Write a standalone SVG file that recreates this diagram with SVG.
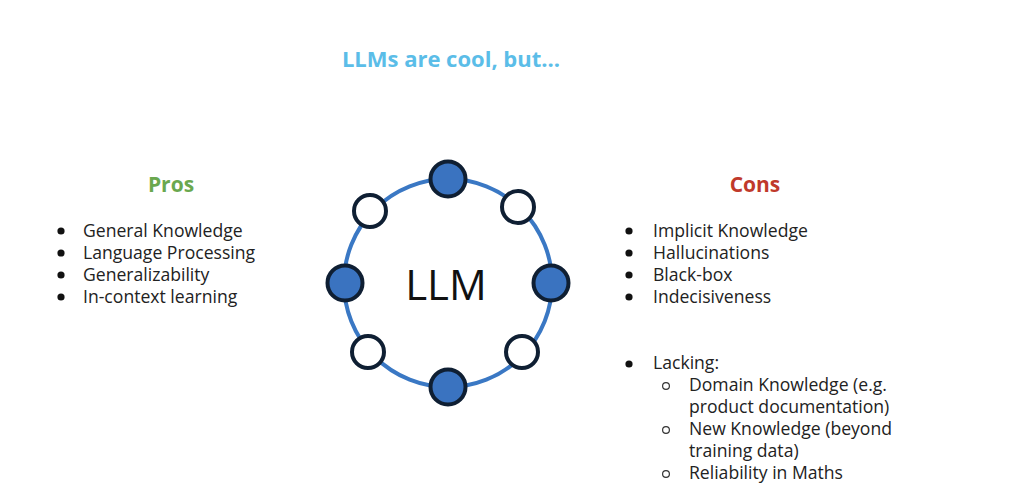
<svg xmlns="http://www.w3.org/2000/svg" width="1024" height="504" viewBox="0 0 1024 504">
<style>
text{font-family:"Open Sans","Noto Sans","Liberation Sans",sans-serif;}
.t{font-size:17.6px;fill:#222;}
.h{font-size:21px;font-weight:bold;text-anchor:middle;}
.dot{fill:#111;}
.odot{fill:none;stroke:#333;stroke-width:1.2;}
.fn{fill:#3a73c0;stroke:#0f1f33;stroke-width:4;}
.on{fill:#fff;stroke:#0f1f33;stroke-width:4;}
</style>
<rect width="1024" height="504" fill="#fff"/>
<text id="title" x="451" y="67" font-size="22" font-weight="bold" fill="#5bbde8" text-anchor="middle">LLMs are cool, but...</text>
<g id="connectors">
<circle cx="448" cy="283" r="104" fill="none" stroke="#3a78c4" stroke-width="4"/>
</g>
<g id="llm">
<g id="n-top"><circle class="fn" cx="448" cy="179" r="17.5"/></g>
<g id="n-right"><circle class="fn" cx="551" cy="283" r="17.5"/></g>
<g id="n-bottom"><circle class="fn" cx="448" cy="387" r="17.5"/></g>
<g id="n-left"><circle class="fn" cx="345" cy="283" r="17.5"/></g>
<g id="n-ur"><circle class="on" cx="518" cy="207" r="16"/></g>
<g id="n-ul"><circle class="on" cx="370" cy="211" r="16"/></g>
<g id="n-ll"><circle class="on" cx="368" cy="352" r="16"/></g>
<g id="n-lr"><circle class="on" cx="522" cy="352" r="16"/></g>
<text x="446" y="300" font-size="42" fill="#111" text-anchor="middle">LLM</text>
</g>
<g id="pros">
<text class="h" x="171" y="192" fill="#6aa84f">Pros</text>
<circle class="dot" cx="61" cy="231" r="3.6"/>
<circle class="dot" cx="61" cy="253" r="3.6"/>
<circle class="dot" cx="61" cy="275" r="3.6"/>
<circle class="dot" cx="61" cy="297" r="3.6"/>
<text class="t" x="83" y="237">General Knowledge</text>
<text class="t" x="83" y="259">Language Processing</text>
<text class="t" x="83" y="281">Generalizability</text>
<text class="t" x="83" y="303">In-context learning</text>
</g>
<g id="cons">
<text class="h" x="755" y="192" fill="#c0392b">Cons</text>
<circle class="dot" cx="629" cy="231" r="3.6"/>
<circle class="dot" cx="629" cy="253" r="3.6"/>
<circle class="dot" cx="629" cy="275" r="3.6"/>
<circle class="dot" cx="629" cy="297" r="3.6"/>
<text class="t" x="653" y="237">Implicit Knowledge</text>
<text class="t" x="653" y="259">Hallucinations</text>
<text class="t" x="653" y="281">Black-box</text>
<text class="t" x="653" y="303">Indecisiveness</text>
<circle class="dot" cx="629" cy="364" r="3.6"/>
<text class="t" x="653" y="369">Lacking:</text>
<circle class="odot" cx="666" cy="386" r="3.4"/>
<circle class="odot" cx="666" cy="430" r="3.4"/>
<circle class="odot" cx="666" cy="474" r="3.4"/>
<text class="t" x="689" y="391">Domain Knowledge (e.g.</text>
<text class="t" x="689" y="413">product documentation)</text>
<text class="t" x="689" y="435">New Knowledge (beyond</text>
<text class="t" x="689" y="457">training data)</text>
<text class="t" x="689" y="479">Reliability in Maths</text>
</g>
</svg>
